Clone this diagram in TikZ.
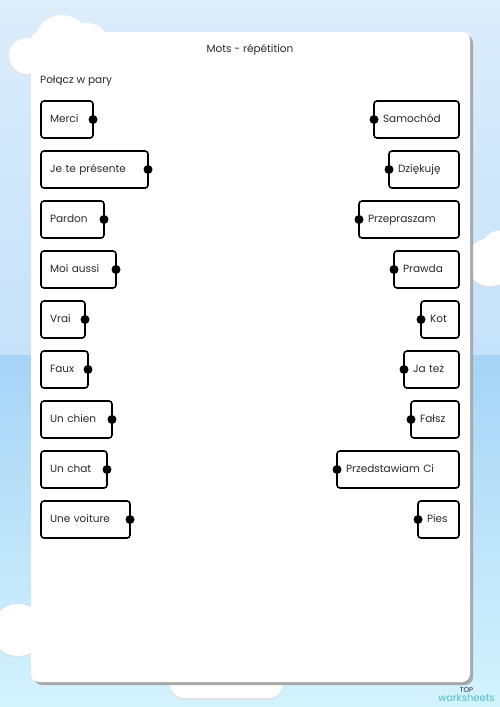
\documentclass[tikz,border=0pt]{standalone}
\usepackage{fontspec}
\setmainfont{Poppins}
\usepackage{xcolor}
\usepackage{tikz}
\usetikzlibrary{positioning,calc}
\definecolor{ciel}{HTML}{DCEDFB}
\definecolor{cielB}{HTML}{C4E2FA}
\definecolor{mer}{HTML}{A6D4F6}
\definecolor{merB}{HTML}{D3F3FD}
\definecolor{ombre}{HTML}{A8A8A8}
\definecolor{encre}{HTML}{2A2A2A}
\definecolor{logoC}{HTML}{4DBBC6}
\tikzset{
  mot/.style={rectangle, rounded corners=3pt, draw=black, line width=1.6pt, fill=white,
              text width=#1, align=left, inner xsep=9pt, outer sep=0pt, minimum height=37pt,
              text height=8pt, text depth=2.5pt,
              font=\fontsize{10.5}{12}\selectfont, text=encre},
  lmot/.style={mot=#1, anchor=west},
  rmot/.style={mot=#1, anchor=east},
  pion/.style={circle, fill=black, inner sep=0pt, minimum size=9pt},
  titre/.style={font=\fontsize{10.5}{12}\selectfont, text=encre, inner sep=0pt},
}

\begin{document}
\begin{tikzpicture}[x=1pt, y=-1pt]
    \useasboundingbox (0,0) rectangle (500,707);
    % ciel
    \shade[top color=ciel, bottom color=cielB] (0,0) rectangle (500,356);
    \shade[top color=mer, bottom color=merB] (0,355) rectangle (500,707);
    % nuages
    \fill[black!12] (62,43.5) circle (27) (87,46.5) circle (22) (27,57.5) circle (18);
    \fill[white] (62,42) circle (27) (87,45) circle (22) (27,56) circle (18);
    \fill[black!12] (490,263.5) circle (24) (500,250) circle (18);
    \fill[white] (490,262) circle (24) (500,248.5) circle (18);
    \fill[black!12] (18,631.5) circle (26);
    \fill[white] (18,630) circle (26);
    \fill[black!12, rounded corners=14pt] (170,660) rectangle (283,699.5);
    \fill[white, rounded corners=14pt] (170,660) rectangle (283,698);
    % feuille
    \fill[ombre, rounded corners=8pt] (34,35) rectangle (473,685);
    \fill[white, rounded corners=8pt] (31,32) rectangle (470,682);
    \node[titre, anchor=base] (titre) at (250,52) {Mots - répétition};
    \node[titre, anchor=base west] (consigne) at (40,83) {Połącz w pary};
    % colonne gauche
    \node[lmot=34pt] (l1) at (41,119.5) {Merci};
    \node[lmot=89pt] (l2) at (41,169.5) {Je te présente};
    \node[lmot=45pt] (l3) at (41,219.5) {Pardon};
    \node[lmot=57pt] (l4) at (41,269.5) {Moi aussi};
    \node[lmot=26pt] (l5) at (41,319.5) {Vrai};
    \node[lmot=29pt] (l6) at (41,369.5) {Faux};
    \node[lmot=53pt] (l7) at (41,419.5) {Un chien};
    \node[lmot=48pt] (l8) at (41,469.5) {Un chat};
    \node[lmot=71pt] (l9) at (41,519.5) {Une voiture};
    % colonne droite
    \node[rmot=67pt] (r1) at (459,119.5) {Samochód};
    \node[rmot=52pt] (r2) at (459,169.5) {Dziękuję};
    \node[rmot=82pt] (r3) at (459,219.5) {Przepraszam};
    \node[rmot=47pt] (r4) at (459,269.5) {Prawda};
    \node[rmot=20pt] (r5) at (459,319.5) {Kot};
    \node[rmot=37pt] (r6) at (459,369.5) {Ja też};
    \node[rmot=30pt] (r7) at (459,419.5) {Fałsz};
    \node[rmot=104pt] (r8) at (459,469.5) {Przedstawiam Ci};
    \node[rmot=23pt] (r9) at (459,519.5) {Pies};
    % points
    \node[pion] (l1p) at (l1.east) {}; \node[pion] (r1p) at (r1.west) {};
    \node[pion] (l2p) at (l2.east) {}; \node[pion] (r2p) at (r2.west) {};
    \node[pion] (l3p) at (l3.east) {}; \node[pion] (r3p) at (r3.west) {};
    \node[pion] (l4p) at (l4.east) {}; \node[pion] (r4p) at (r4.west) {};
    \node[pion] (l5p) at (l5.east) {}; \node[pion] (r5p) at (r5.west) {};
    \node[pion] (l6p) at (l6.east) {}; \node[pion] (r6p) at (r6.west) {};
    \node[pion] (l7p) at (l7.east) {}; \node[pion] (r7p) at (r7.west) {};
    \node[pion] (l8p) at (l8.east) {}; \node[pion] (r8p) at (r8.west) {};
    \node[pion] (l9p) at (l9.east) {}; \node[pion] (r9p) at (r9.west) {};
    % logo
    \node[font=\fontsize{7}{8}\selectfont, text=encre, inner sep=0pt] (top) at (466.5,690) {TOP};
    \node[font=\fontsize{10}{11}\selectfont, text=logoC, inner sep=0pt, below=1.5pt of top] (ws) {worksheets};
  \end{tikzpicture}
\end{document}
